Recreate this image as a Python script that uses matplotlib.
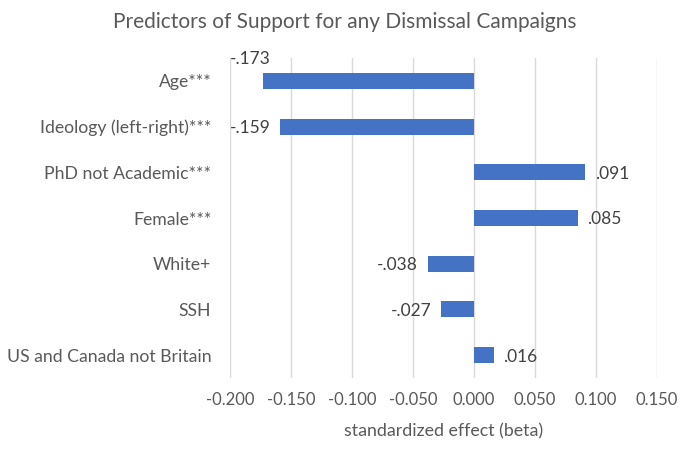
import matplotlib
matplotlib.use("Agg")
import matplotlib.pyplot as plt

plt.rcParams['font.family'] = ['Lato', 'DejaVu Sans']

categories = ["Age***", "Ideology (left-right)***", "PhD not Academic***", "Female***",
              "White+", "SSH", "US and Canada not Britain"]
values = [-0.173, -0.159, 0.091, 0.085, -0.038, -0.027, 0.016]
value_labels = ["-.173", "-.159", ".091", ".085", "-.038", "-.027", ".016"]
xticks = [-0.2, -0.15, -0.1, -0.05, 0.0, 0.05, 0.1, 0.15]
xtick_labels = ["-0.200", "-0.150", "-0.100", "-0.050", "0.000", "0.050", "0.100", "0.150"]

fig = plt.figure(figsize=(6.97, 4.63), dpi=100)
ax = fig.add_axes([0.330, 0.1836, 0.6126, 0.6911])

ypos = list(range(len(categories)))
ax.barh(ypos, values, height=0.35, color="#4472C4", zorder=3)
ax.set_ylim(len(categories) - 0.5, -0.5)
ax.set_xlim(-0.2, 0.15)
ax.set_xticks(xticks)
ax.set_xticklabels(xtick_labels)
ax.set_yticks(ypos)
ax.set_yticklabels(categories)
ax.tick_params(axis='both', length=0, labelcolor="#595959")
ax.tick_params(axis='x', pad=10, labelsize=12)
ax.tick_params(axis='y', pad=13.5, labelsize=12.7)
ax.grid(axis='x', color="#D9D9D9", linewidth=1, zorder=0)
for s in ax.spines.values():
    s.set_visible(False)

for i, (v, lab) in enumerate(zip(values, value_labels)):
    if i == 0:
        ax.annotate(lab, (v, i), xytext=(-9, 10), textcoords='offset points',
                    ha='center', va='bottom', fontsize=12.5, color="#404040")
    elif v < 0:
        ax.annotate(lab, (v, i), xytext=(-7, -1), textcoords='offset points',
                    ha='right', va='center', fontsize=12.5, color="#404040")
    else:
        ax.annotate(lab, (v, i), xytext=(7, -1), textcoords='offset points',
                    ha='left', va='center', fontsize=12.5, color="#404040")

ax.set_xlabel("standardized effect (beta)", fontsize=12.8, color="#595959", labelpad=11)
fig.text(0.495, 0.952, "Predictors of Support for any Dismissal Campaigns",
         ha='center', va='center', fontsize=15, color="#595959")

fig.savefig("out.png", dpi=100)
